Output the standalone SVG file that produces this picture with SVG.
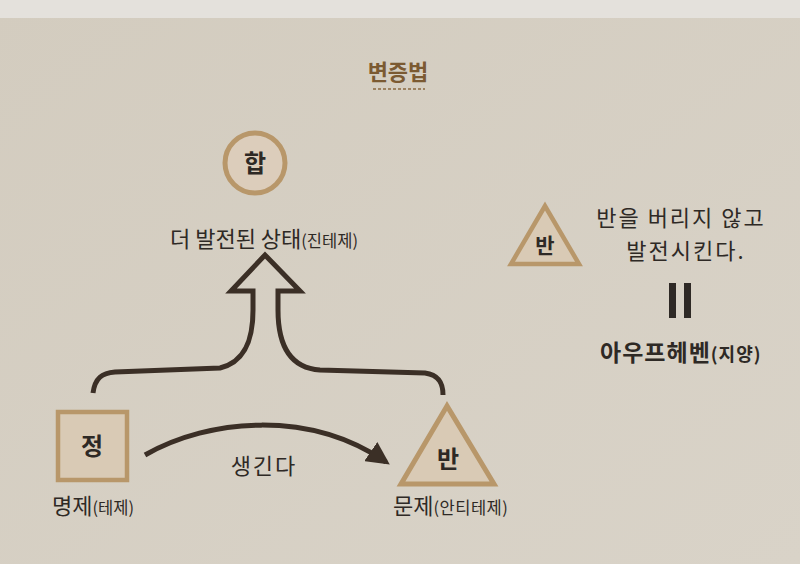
<svg xmlns="http://www.w3.org/2000/svg" width="800" height="564" viewBox="0 0 800 564">
<defs>
<style>
text{font-family:"Noto Sans CJK KR","Noto Sans",sans-serif;fill:#2e2925}
.lbl{font-size:22px}
.sm{font-size:16.5px}
.node{font-size:24px;font-weight:bold;text-anchor:middle}
.shape{fill:#d9cab5;stroke:#b8976a;stroke-width:5}
.con{fill:none;stroke:#3b2f26;stroke-width:5;stroke-linejoin:miter}
</style>
<linearGradient id="bg" x1="0" y1="0" x2="1" y2="1">
<stop offset="0" stop-color="#d3ccbf"/>
<stop offset="1" stop-color="#d9d3c8"/>
</linearGradient>
<marker id="ah" viewBox="0 0 10 10" refX="8" refY="5" markerWidth="4.6" markerHeight="4.6" orient="auto" markerUnits="strokeWidth">
<path d="M0,0 L10,5 L0,10 z" fill="#3b2f26"/>
</marker>
</defs>
<rect width="800" height="564" fill="url(#bg)"/>
<rect width="800" height="18" fill="#e4e1dc"/>

<g id="title">
<text x="398" y="80" text-anchor="middle" style="font-size:22px;font-weight:bold;fill:#7b5a32">변증법</text>
<line x1="373" y1="89" x2="425" y2="89" stroke="#8a6a40" stroke-width="1.5" stroke-dasharray="3,2"/>
</g>

<g id="connectors">
<path class="con" d="M93,393 C95,378 102,373 115,372 L220,368 C245,362 253,340 253,310 L253,291 L231,291 L265,255 L300,291 L278,291 L278,310 C278,345 290,368 320,370 L425,373 C440,375 443,385 443,395"/>
<path class="con" d="M145,455 C210,418 310,410 386,462" marker-end="url(#ah)"/>
<text x="264" y="474" text-anchor="middle" style="font-size:22px;letter-spacing:2px">생긴다</text>
</g>

<g id="hap">
<circle cx="255" cy="163" r="30" class="shape" style="fill:#dccdbb"/>
<text x="255" y="172" class="node">합</text>
<text x="170" y="247" class="lbl">더 발전된 상태<tspan class="sm">(진테제)</tspan></text>
</g>

<g id="jeong">
<rect x="58" y="412" width="69" height="68" class="shape" style="stroke-width:4.5"/>
<text x="92" y="455" class="node">정</text>
<text x="52" y="514" class="lbl">명제<tspan class="sm">(테제)</tspan></text>
</g>

<g id="ban">
<polygon points="447,406 401,484 494,484" class="shape" style="stroke-linejoin:miter"/>
<text x="448" y="468" class="node">반</text>
<text x="393" y="514" class="lbl">문제<tspan class="sm" style="letter-spacing:0.5px">(안티테제)</tspan></text>
</g>

<g id="ban-legend">
<polygon points="545,206 511,264 579,264" class="shape" style="stroke-width:4.5"/>
<text x="545" y="253" class="node" style="font-size:21px">반</text>
<text x="681" y="226" class="lbl" text-anchor="middle" style="letter-spacing:2px">반을 버리지 않고</text>
<text x="686" y="259" class="lbl" text-anchor="middle" style="letter-spacing:2px">발전시킨다.</text>
<rect x="669" y="283" width="7" height="35" fill="#2e2925"/>
<rect x="684" y="283" width="7" height="35" fill="#2e2925"/>
<text x="600" y="361" style="font-size:23px;font-weight:bold;letter-spacing:1px">아우프헤벤<tspan style="font-size:18px">(지양)</tspan></text>
</g>
</svg>
